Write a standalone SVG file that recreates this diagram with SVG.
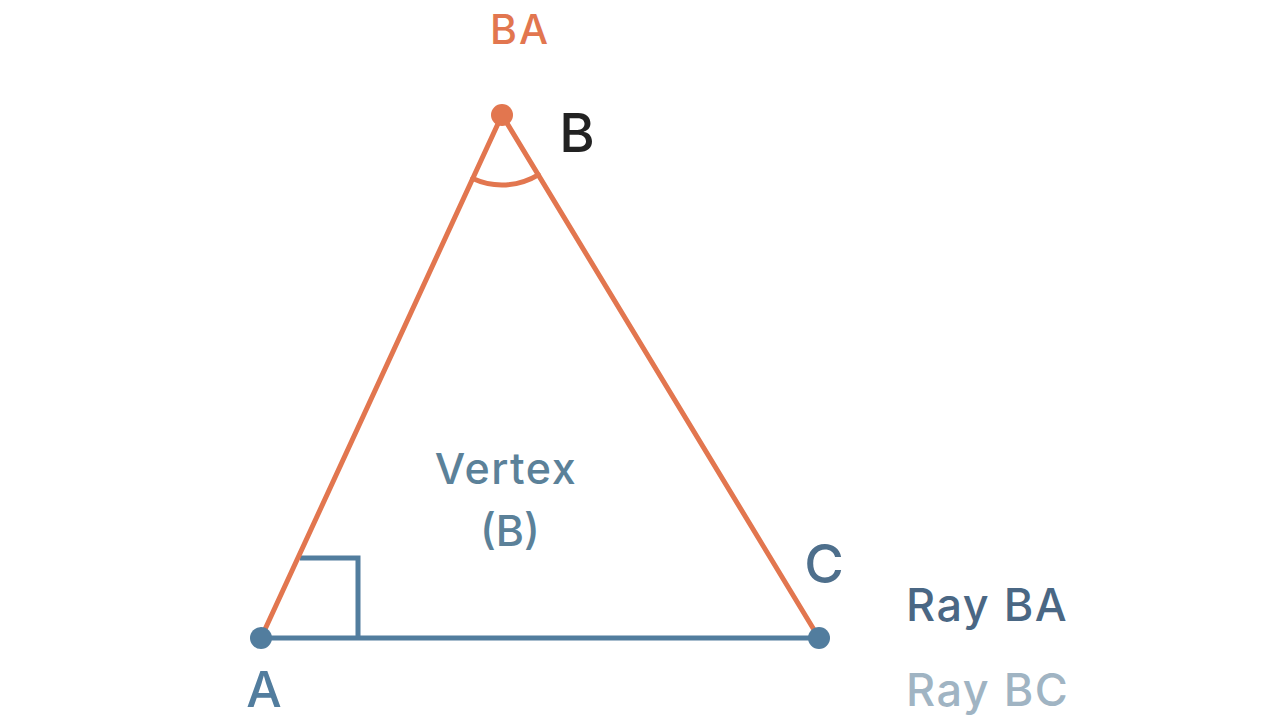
<svg xmlns="http://www.w3.org/2000/svg" width="1280" height="720" viewBox="0 0 1280 720">
<style>
.or{stroke:#E2764F;stroke-width:5;fill:none;stroke-linecap:round}
.bl{stroke:#527D9E;stroke-width:5;fill:none}
text{font-family:Inter,"Open Sans","Liberation Sans",sans-serif;font-weight:500}
</style>
<rect width="1280" height="720" fill="#ffffff"/>
<g id="connectors">
<line class="bl" x1="261" y1="638" x2="819" y2="638"/>
<polyline class="bl" points="300,558 358,558 358,638"/>
<line class="or" x1="502" y1="115" x2="261" y2="638"/>
<line class="or" x1="502" y1="115" x2="819" y2="638"/>
<path class="or" d="M472.7,178.6 A70,70 0 0 0 538.3,174.9"/>
</g>
<g id="nodeB">
<circle cx="502" cy="115" r="11" fill="#E2764F"/>
<text x="577" y="152" font-size="54" fill="#222222" text-anchor="middle">B</text>
</g>
<g id="nodeA">
<circle cx="261" cy="638" r="11" fill="#527D9E"/>
<text x="264" y="707" font-size="50" fill="#527D9E" text-anchor="middle">A</text>
</g>
<g id="nodeC">
<circle cx="819" cy="638" r="11" fill="#527D9E"/>
<text x="824" y="583" font-size="54" fill="#4E6F8C" text-anchor="middle">C</text>
</g>
<g id="labelBA">
<text x="520" y="44" font-size="41" letter-spacing="2" fill="#E2764F" text-anchor="middle">BA</text>
</g>
<g id="vertex">
<text x="506" y="484" font-size="43" letter-spacing="1.5" fill="#5B8199" text-anchor="middle">Vertex</text>
<text x="510" y="546" font-size="43" fill="#5B8199" text-anchor="middle">(B)</text>
</g>
<g id="rays">
<text x="906" y="621" font-size="45" letter-spacing="1.5" fill="#4A6784">Ray BA</text>
<text x="906" y="706" font-size="45" letter-spacing="1.5" fill="#A0B4C3">Ray BC</text>
</g>
</svg>
